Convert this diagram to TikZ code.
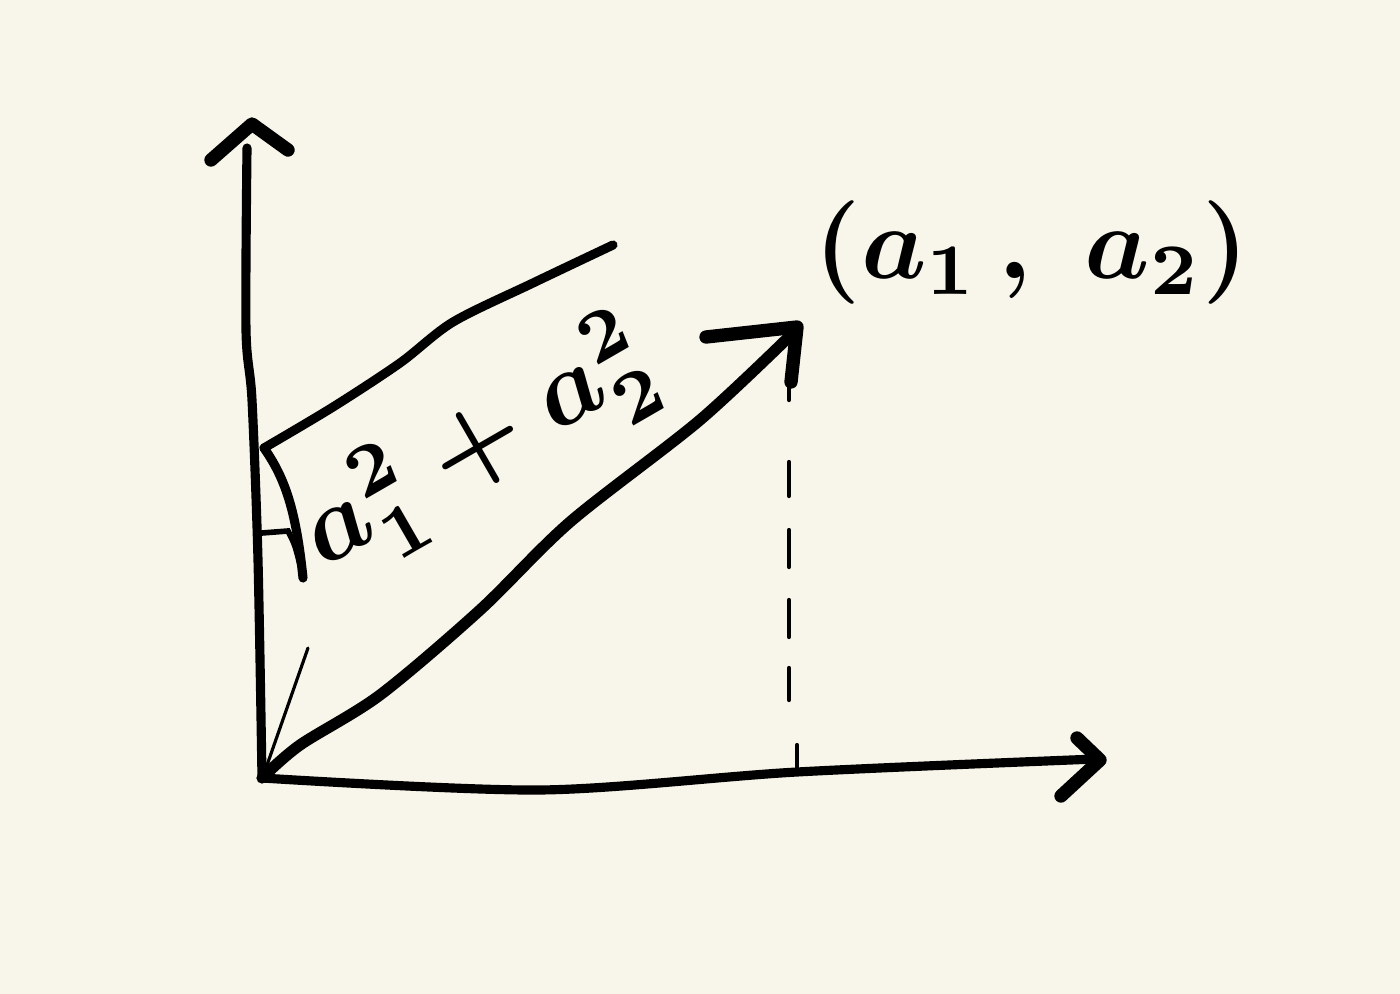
\documentclass[tikz,border=0pt]{standalone}
\usetikzlibrary{positioning}
\definecolor{paper}{RGB}{248,246,235}
\tikzset{
  pen/.style={line width=2.6pt, line cap=round, line join=round},
  heavypen/.style={line width=3.2pt, line cap=round, line join=round},
  tippen/.style={line width=3.8pt, line cap=round, line join=round},
  dashpen/.style={line width=1.2pt, line cap=round},
  thinpen/.style={line width=0.9pt, line cap=round},
  hand/.style={font=\boldmath},
}
\begin{document}
\begin{tikzpicture}[x=0.01cm, y=-0.01cm]
  \fill[paper] (0,0) rectangle (1400,994); % sheet
  \useasboundingbox (0,0) rectangle (1400,994);

  \coordinate (O) at (262,778);    % origin
  \coordinate (ytop) at (247,148); % end of y axis
  \coordinate (xend) at (1096,759);% end of x axis
  \coordinate (P) at (796,330);    % head of the vector
  \coordinate (foot) at (797,772); % foot of the dashed drop

  % Axes
  \draw[pen] plot[smooth] coordinates {(O) (258,560) (252,400) (246,330) (ytop)};
  \draw[tippen] (211,160) -- (252,124) -- (288,150);
  \draw[pen] plot[smooth] coordinates {(O) (540,790) (foot) (xend)};
  \draw[tippen] (1077,738) -- (1100,760) -- (1061,796);

  % The vector
  \draw[heavypen] plot[smooth] coordinates {(O) (300,745) (380,695) (480,610) (570,522) (700,420) (P)};
  \draw[tippen] (706,337) -- (797,327) -- (791,382);

  % Dashed drop to the x axis
  \foreach \A/\B in {387/400, 462/496, 530/567, 600/637, 668/700} {
    \draw[dashpen] (789,\A) -- (789,\B);
  }
  \draw[dashpen] (797,745) -- (foot);

  % Angle stroke
  \draw[thinpen] (266,768) -- (308,648);

  % Square root sign
  \draw[pen] (303,578) .. controls (296,510) and (285,478) .. (264,448);
  \draw[pen] plot[smooth] coordinates {(264,448) (333,407) (400,363) (453,322) (533,283) (613,245)};
  \draw[line width=1.6pt, line cap=round] (262,533) -- (288,531) .. controls (295,545) .. (300,565);

  % Labels
  \node[hand, scale=3.0, rotate=30] (norm) at (478,448) {$a_1^2+a_2^2$};
  \node[hand, scale=2.95] (coords) at (1032,253) {$(a_1\,,\;a_2)$};
\end{tikzpicture}
\end{document}
